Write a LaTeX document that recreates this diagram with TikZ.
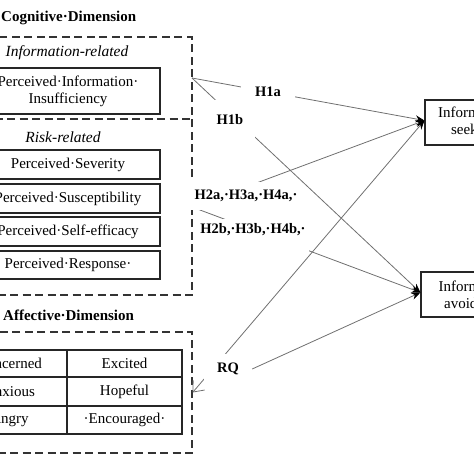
\documentclass[tikz,border=0pt]{standalone}
\usepackage{fontspec}
\setmainfont{Liberation Serif}
\usetikzlibrary{arrows.meta}
\definecolor{linegray}{HTML}{707070}
\begin{document}
\begin{tikzpicture}[x=1pt,y=-1pt,
  every node/.style={font=\fontsize{15}{17}\selectfont, text=black},
  bbox/.style={draw=black!85, line width=1.1pt, inner sep=0pt, align=center},
  dashline/.style={draw=black!80, line width=1.2pt, dash pattern=on 8pt off 4.5pt},
  dbox/.style={dashline, inner sep=0pt, minimum width=232pt},
  titlelab/.style={font=\fontsize{15}{17}\selectfont\bfseries, anchor=west, inner sep=0pt},
  sublab/.style={font=\fontsize{15.5}{17}\selectfont\itshape, inner sep=0pt},
  hlab/.style={font=\fontsize{14.5}{17}\selectfont\bfseries, fill=white, inner sep=3pt},
  conn/.style={draw=linegray, line width=0.8pt, -{Stealth[black,length=9pt,width=7pt]}},
  openconn/.style={draw=linegray, line width=0.8pt, {Straight Barb[linegray,length=9pt,width=15pt]}-{Stealth[black,length=9pt,width=7pt]}}
]
\useasboundingbox (0,0) rectangle (474,474);
\clip (0,0) rectangle (474,474);

% titles
\node[titlelab] (cogt) at (1,18) {Cognitive·Dimension};
\node[titlelab] (afft) at (3,315) {Affective·Dimension};

% dashed groups
\node[dbox, minimum height=258pt] (cog) at (76,166) {};
\coordinate (divl) at (-40,119);
\coordinate (divr) at (192,119);
\draw[dashline, dash phase=3pt] (divl) -- (divr);
\coordinate (infoout) at (192,78);
\coordinate (riskout) at (192,207);
\node[dbox, minimum height=121pt] (aff) at (76,392.5) {};

% sub labels
\node[sublab] (infol) at (67,53) {Information-related};
\node[sublab] (riskl) at (63,137) {Risk-related};

% cognitive boxes
\node[bbox, minimum width=184pt, minimum height=46pt] (pii) at (68,91) {Perceived·Information·\\Insufficiency};
\node[bbox, minimum width=184pt, minimum height=29pt] (sev) at (68,164.5) {Perceived·Severity};
\node[bbox, minimum width=184pt, minimum height=29pt] (sus) at (68,198.5) {Perceived·Susceptibility};
\node[bbox, minimum width=184pt, minimum height=29pt] (eff) at (68,231.5) {Perceived·Self-efficacy};
\node[bbox, minimum width=184pt, minimum height=28pt] (resp) at (68,265) {Perceived·Response·};

% affective table
\node[bbox, minimum width=115pt, minimum height=27pt] (c11) at (9.5,363.5) {Concerned};
\node[bbox, minimum width=115pt, minimum height=27pt] (c12) at (124.5,363.5) {Excited};
\node[bbox, minimum width=115pt, minimum height=29pt] (c21) at (9.5,391.5) {Anxious};
\node[bbox, minimum width=115pt, minimum height=29pt] (c22) at (124.5,391.5) {Hopeful};
\node[bbox, minimum width=115pt, minimum height=28pt] (c31) at (9.5,420) {Angry};
\node[bbox, minimum width=115pt, minimum height=28pt] (c32) at (124.5,420) {·Encouraged·};

% outcome boxes
\node[bbox, minimum width=98pt, minimum height=45pt] (seek) at (474,122.5) {Information\\seeking};
\node[bbox, minimum width=107pt, minimum height=45pt] (avoid) at (474.5,294.5) {Information\\avoidance};

% connectors
\draw[conn] (infoout) -- ([yshift=2pt]seek.west);
\draw[conn] (infoout) -- ([yshift=2pt]avoid.west);
\draw[conn] (riskout) -- ([yshift=2pt]seek.west);
\draw[conn] (riskout) -- ([yshift=2pt]avoid.west);
\draw[openconn] (aff.east) -- ([yshift=2pt]seek.west);

% connector labels
\node[hlab, inner xsep=14pt] (h1a) at (268,92) {H1a};
\node[hlab, inner xsep=12pt, minimum height=40pt] (h1b) at (230,120) {H1b};
\node[hlab, inner xsep=4pt, minimum height=28pt] (h2a) at (246,196) {H2a,·H3a,·H4a,·};
\node[hlab, inner xsep=3pt, inner ysep=3pt, text height=11pt, text depth=18pt] (h2b) at (253,236.5) {H2b,·H3b,·H4b,·};
\node[hlab, minimum width=48pt, minimum height=30pt] (rq) at (228,369) {RQ};

\draw[conn] (rq.east) -- ([yshift=2pt]avoid.west);
\end{tikzpicture}
\end{document}
